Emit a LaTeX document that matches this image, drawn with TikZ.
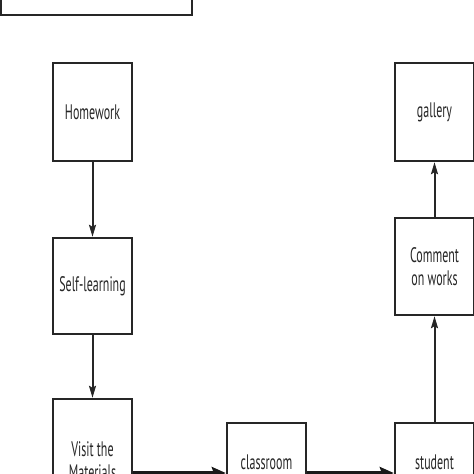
\documentclass[tikz,border=0pt]{standalone}
\usepackage{fontspec}
\setmainfont{PT Sans}[FakeStretch=0.57]
\usetikzlibrary{arrows.meta}
\begin{document}
\begin{tikzpicture}[x=1pt,y=-1pt,
  box/.style={draw=black!85, line width=2.4pt, rectangle, inner sep=0pt, align=center,
    font=\fontsize{21}{23}\selectfont, text=black!85},
  vline/.style={draw=black!85, line width=2pt, -{Stealth[length=12pt,width=7pt,inset=2pt]}},
  hline/.style={draw=black!90, line width=4.5pt, -{Stealth[length=14pt,width=12pt,inset=2pt]}}]
\useasboundingbox (0,0) rectangle (474,474);
\node[box, minimum width=191pt, minimum height=80pt] (top) at (96.5,-25) {};
\node[box, minimum width=79pt, minimum height=98pt] (hw) at (92.5,112) {Homework};
\node[box, minimum width=79pt, minimum height=96pt] (sl) at (92.5,286) {Self-learning};
\node[box, minimum width=79pt, minimum height=124pt] (visit) at (92.5,461) {Visit the\\Materials};
\node[box, minimum width=79pt, minimum height=78pt] (class) at (266.5,462) {classroom};
\node[box, minimum width=79pt, minimum height=78pt] (stud) at (434.5,462) {student};
\node[box, minimum width=79pt, minimum height=97pt] (com) at (434.5,266.5) {Comment\\on works};
\node[box, minimum width=79pt, minimum height=98pt] (gal) at (434.5,112) {gallery};
\draw[vline] (hw) -- (sl);
\draw[vline] (sl) -- (visit);
\draw[vline] (stud) -- (com);
\draw[vline] (com) -- (gal);
\draw[hline] (visit.east |- 0,473) -- (class.west |- 0,473);
\draw[hline] (class.east |- 0,473) -- (stud.west |- 0,473);
\end{tikzpicture}
\end{document}
